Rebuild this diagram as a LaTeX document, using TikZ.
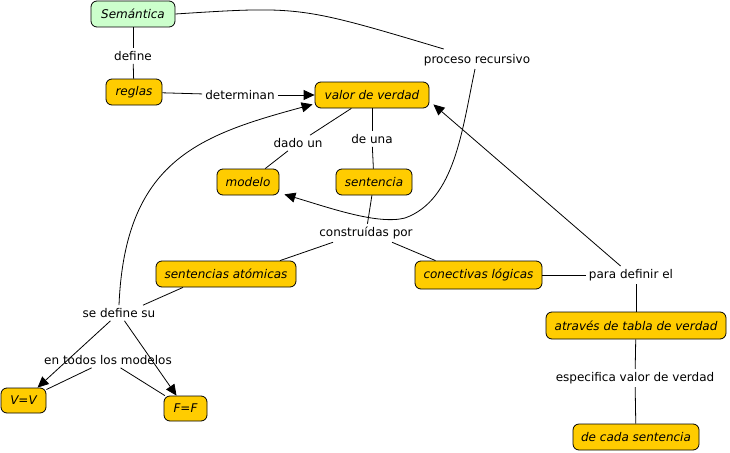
\documentclass[tikz,border=0pt]{standalone}
\usepackage{fontspec}
\setmainfont{DejaVu Sans}
\usetikzlibrary{arrows.meta}
\definecolor{yel}{RGB}{255,204,0}
\definecolor{grn}{RGB}{204,255,204}
\begin{document}
\begin{tikzpicture}[x=1pt,y=-1pt,
  every node/.style={font=\fontsize{12}{14}\selectfont},
  concept/.style={draw=black,line width=0.8pt,rounded corners=6pt,fill=yel,
    minimum height=26pt,inner xsep=2pt,inner ysep=0pt,
    font=\fontsize{12}{14}\selectfont\itshape},
  lab/.style={inner sep=3pt},
  link/.style={line width=0.8pt,draw=black},
  arr/.style={link,-{Triangle[length=11pt,width=10pt]}}]
\useasboundingbox (0,0) rectangle (730,452);
% concepts
\node[concept,fill=grn,minimum width=84pt] (sem) at (133,14) {Semántica};
\node[concept,minimum width=56pt] (reglas) at (134,92) {reglas};
\node[concept,minimum width=114pt] (valor) at (372,95) {valor de verdad};
\node[concept,minimum width=62pt] (modelo) at (248,182) {modelo};
\node[concept,minimum width=76pt] (sent) at (374,182) {sentencia};
\node[concept,minimum width=140pt] (atom) at (226,274) {sentencias atómicas};
\node[concept,minimum width=127pt,minimum height=28pt] (conec) at (478.5,275) {conectivas lógicas};
\node[concept,minimum width=180pt,minimum height=27pt] (tabla) at (636,325.5) {através de tabla de verdad};
\node[concept,minimum width=126pt] (cada) at (636,437) {de cada sentencia};
\node[concept,minimum width=45pt,minimum height=25pt] (vv) at (23.5,400.5) {V=V};
\node[concept,minimum width=43pt,minimum height=25pt] (ff) at (185.5,408.5) {F=F};
% labels
\node[lab] (define) at (133,56) {define};
\node[lab] (determ) at (240,95) {determinan};
\node[lab] (proceso) at (477,60) {proceso recursivo};
\node[lab] (dado) at (298,143) {dado un};
\node[lab] (deuna) at (372,139) {de una};
\node[lab] (constr) at (366,233) {construídas por};
\node[lab] (para) at (631,275) {para definir el};
\node[lab] (sedef) at (119,313) {se define su};
\node[lab] (todos) at (108,360) {en todos los modelos};
\node[lab] (espec) at (635,378) {especifica valor de verdad};
% connectors
\draw[link] (sem) -- (define);
\draw[link] (define) -- (reglas);
\draw[link] (reglas) -- (determ);
\draw[arr] (determ) -- (valor);
\draw[link] (sem.east) .. controls (300,6) .. ([xshift=23pt,yshift=2pt]proceso.north west);
\draw[arr] ([xshift=-2pt]proceso.south) .. controls (462,130) and (455,200) .. (405,218)
  .. controls (378,225) and (330,208) .. ([xshift=5pt,yshift=1pt]modelo.south east);
\draw[link] (valor) -- (dado);
\draw[link] (dado) -- (modelo);
\draw[link] (valor) -- (deuna);
\draw[link] (deuna) -- (sent);
\draw[link] (sent) -- (constr);
\draw[link] ([xshift=-33pt]constr.south) -- ([xshift=54pt]atom.north);
\draw[link] ([xshift=26pt]constr.south) -- ([xshift=-43pt]conec.north);
\draw[link] ([xshift=-43pt]atom.south) -- ([xshift=24pt]sedef.north);
\draw[arr] (sedef.north) .. controls (125,160) and (200,135) .. ([xshift=-2pt,yshift=4pt]valor.south west);
\draw[arr] (sedef) -- (vv);
\draw[arr] (sedef) -- (ff);
\draw[link] (vv) -- (todos);
\draw[link] (todos) -- (ff);
\draw[link] (conec) -- (para);
\draw[arr] (para) -- ([xshift=4pt,yshift=4pt]valor.south east);
\draw[link] ([xshift=5pt]para.south) -- ([xshift=0pt]tabla.north);
\draw[link] (tabla) -- (espec);
\draw[link] (espec) -- (cada);
\end{tikzpicture}
\end{document}
